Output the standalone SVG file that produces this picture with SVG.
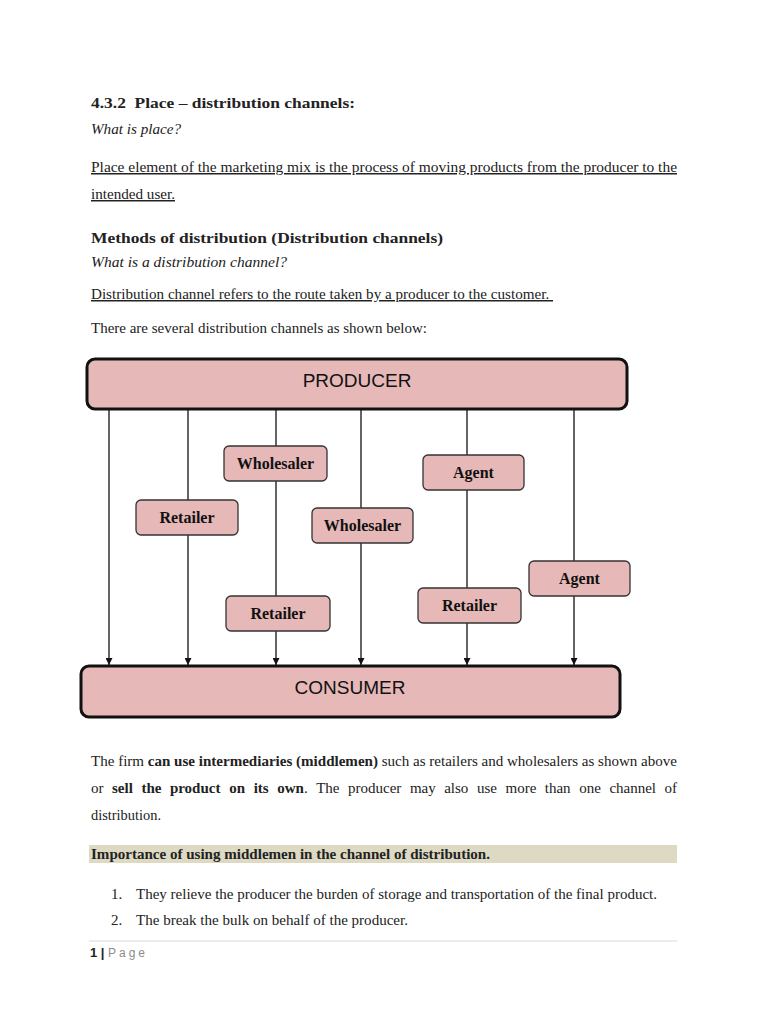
<svg xmlns="http://www.w3.org/2000/svg" width="768" height="1024" viewBox="0 0 768 1024">
<defs>
<style>
.t{font-family:"Liberation Serif","Times New Roman",serif;font-size:15px;fill:#222}
.b{font-weight:bold}
.i{font-style:italic}
.u{text-decoration:underline}
.big{font-family:"Liberation Sans",Arial,sans-serif;font-size:19px;fill:#111}
.lbl{font-family:"Liberation Serif","Times New Roman",serif;font-size:16px;font-weight:bold;fill:#111}
.main{fill:#e6b8b7;stroke:#111;stroke-width:3}
.box{fill:#e6b8b7;stroke:#333;stroke-width:1.3}
.c{stroke:#111;stroke-width:1.3;fill:none}
</style>
<marker id="ah" viewBox="0 0 10 10" refX="10" refY="5" markerWidth="7" markerHeight="7" markerUnits="userSpaceOnUse" orient="auto">
<path d="M0,0 L10,5 L0,10 z" fill="#111"/>
</marker>
</defs>
<rect width="768" height="1024" fill="#fff"/>

<text class="t b" x="91" y="108" font-size="16" xml:space="preserve" style="white-space:pre" textLength="264" lengthAdjust="spacingAndGlyphs">4.3.2  Place – distribution channels:</text>
<text class="t i" x="91" y="134" textLength="90" lengthAdjust="spacingAndGlyphs">What is place?</text>
<text class="t u" x="91" y="172" textLength="586" lengthAdjust="spacingAndGlyphs">Place element of the marketing mix is the process of moving products from the producer to the</text>
<text class="t u" x="91" y="199" textLength="84" lengthAdjust="spacingAndGlyphs">intended user.</text>
<text class="t b" x="91" y="243" font-size="18" textLength="352" lengthAdjust="spacingAndGlyphs">Methods of distribution (Distribution channels)</text>
<text class="t i" x="91" y="267" textLength="196" lengthAdjust="spacingAndGlyphs">What is a distribution channel?</text>
<text class="t u" x="91" y="299" xml:space="preserve" style="white-space:pre" textLength="462" lengthAdjust="spacingAndGlyphs">Distribution channel refers to the route taken by a producer to the customer. </text>
<text class="t" x="91" y="333" textLength="336" lengthAdjust="spacingAndGlyphs">There are several distribution channels as shown below:</text>

<g id="connectors">
<line class="c" x1="109" y1="409" x2="109" y2="665" marker-end="url(#ah)"/>
<line class="c" x1="188" y1="409" x2="188" y2="500"/>
<line class="c" x1="188" y1="535" x2="188" y2="665" marker-end="url(#ah)"/>
<line class="c" x1="276" y1="409" x2="276" y2="446"/>
<line class="c" x1="276" y1="481" x2="276" y2="596"/>
<line class="c" x1="276" y1="631" x2="276" y2="665" marker-end="url(#ah)"/>
<line class="c" x1="361" y1="409" x2="361" y2="508"/>
<line class="c" x1="361" y1="543" x2="361" y2="665" marker-end="url(#ah)"/>
<line class="c" x1="467" y1="409" x2="467" y2="455"/>
<line class="c" x1="467" y1="490" x2="467" y2="588"/>
<line class="c" x1="467" y1="623" x2="467" y2="665" marker-end="url(#ah)"/>
<line class="c" x1="574" y1="409" x2="574" y2="561"/>
<line class="c" x1="574" y1="596" x2="574" y2="665" marker-end="url(#ah)"/>
</g>

<g id="producer">
<rect class="main" x="87" y="359" width="540" height="50" rx="8"/>
<text class="big" x="357" y="387" text-anchor="middle">PRODUCER</text>
</g>
<g id="consumer">
<rect class="main" x="81" y="666" width="539" height="51" rx="8"/>
<text class="big" x="350" y="694" text-anchor="middle">CONSUMER</text>
</g>

<g id="wholesaler1">
<rect class="box" x="224" y="446" width="103" height="35" rx="5"/>
<text class="lbl" x="275.5" y="469" text-anchor="middle">Wholesaler</text>
</g>
<g id="agent1">
<rect class="box" x="423" y="455" width="101" height="35" rx="5"/>
<text class="lbl" x="473.5" y="478" text-anchor="middle">Agent</text>
</g>
<g id="retailer1">
<rect class="box" x="136" y="500" width="102" height="35" rx="5"/>
<text class="lbl" x="187" y="523" text-anchor="middle">Retailer</text>
</g>
<g id="wholesaler2">
<rect class="box" x="312" y="508" width="101" height="35" rx="5"/>
<text class="lbl" x="362.5" y="531" text-anchor="middle">Wholesaler</text>
</g>
<g id="agent2">
<rect class="box" x="529" y="561" width="101" height="35" rx="5"/>
<text class="lbl" x="579.5" y="584" text-anchor="middle">Agent</text>
</g>
<g id="retailer2">
<rect class="box" x="226" y="596" width="104" height="35" rx="5"/>
<text class="lbl" x="278" y="619" text-anchor="middle">Retailer</text>
</g>
<g id="retailer3">
<rect class="box" x="418" y="588" width="103" height="35" rx="5"/>
<text class="lbl" x="469.5" y="611" text-anchor="middle">Retailer</text>
</g>

<text class="t" x="91" y="766" textLength="586" lengthAdjust="spacingAndGlyphs">The firm <tspan class="b">can use intermediaries (middlemen)</tspan> such as retailers and wholesalers as shown above</text>
<text class="t" y="793"><tspan x="91">or</tspan><tspan class="b" x="112">sell</tspan><tspan class="b" x="141.4">the</tspan><tspan class="b" x="169.9">product</tspan><tspan class="b" x="229.3">on</tspan><tspan class="b" x="253.7">its</tspan><tspan class="b" x="277.2">own</tspan><tspan>.</tspan><tspan x="316.2">The</tspan><tspan x="348">producer</tspan><tspan x="409.9">may</tspan><tspan x="444.2">also</tspan><tspan x="476.9">use</tspan><tspan x="505.5">more</tspan><tspan x="544.8">than</tspan><tspan x="579.2">one</tspan><tspan x="609.4">channel</tspan><tspan x="664.5">of</tspan></text>
<text class="t" x="91" y="820" textLength="70" lengthAdjust="spacingAndGlyphs">distribution.</text>

<rect x="89" y="845" width="588" height="18" fill="#ddd9c3"/>
<text class="t b" x="91" y="859" textLength="399" lengthAdjust="spacingAndGlyphs">Importance of using middlemen in the channel of distribution.</text>

<text class="t" x="111" y="899">1.</text>
<text class="t" x="136" y="899" textLength="521" lengthAdjust="spacingAndGlyphs">They relieve the producer the burden of storage and transportation of the final product.</text>
<text class="t" x="111" y="925">2.</text>
<text class="t" x="136" y="925" textLength="272" lengthAdjust="spacingAndGlyphs">The break the bulk on behalf of the producer.</text>

<line x1="89" y1="941" x2="677" y2="941" stroke="#d9d9d9" stroke-width="1"/>
<text x="90" y="957" font-family="'Liberation Sans',Arial,sans-serif" font-size="13" font-weight="bold" fill="#222">1 |</text>
<text x="108" y="957" font-family="'Liberation Sans',Arial,sans-serif" font-size="12" fill="#8c8c8c" letter-spacing="3">Page</text>
</svg>
